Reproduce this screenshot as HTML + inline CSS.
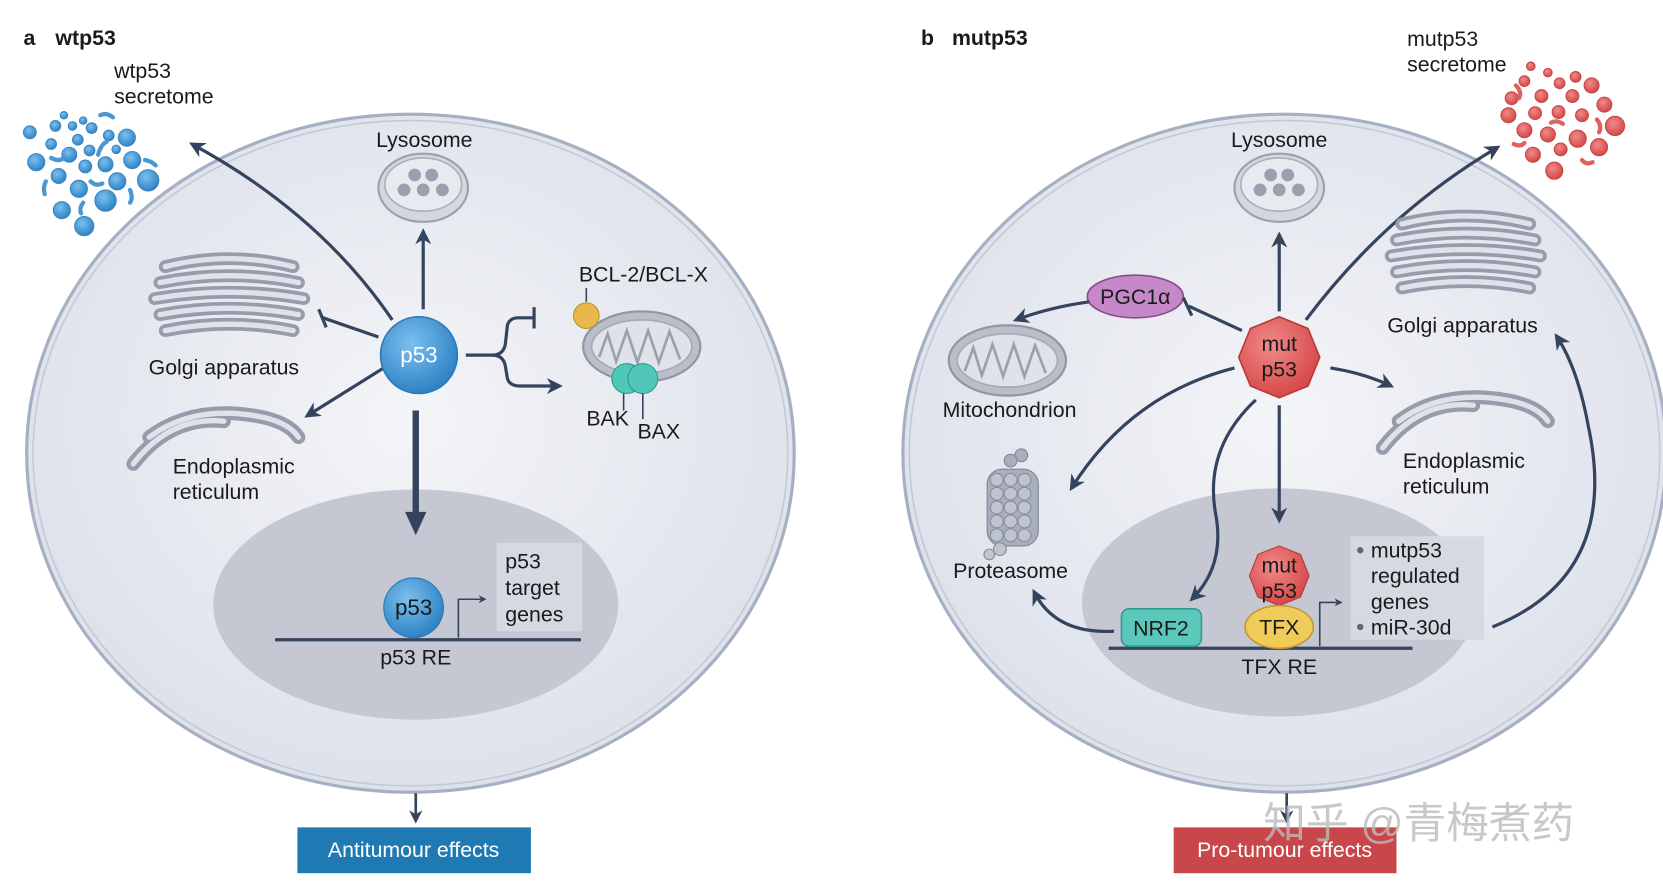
<!DOCTYPE html>
<html><head><meta charset="utf-8"><style>
html,body{margin:0;padding:0;background:#fff;}
svg{display:block;}
text{font-family:"Liberation Sans","Noto Sans CJK SC",sans-serif;fill:#1a1a1a;}
</style></head><body>
<svg width="1663" height="884" viewBox="0 0 1560 829" xmlns="http://www.w3.org/2000/svg">
<defs>
<radialGradient id="cell" cx="50%" cy="45%" r="55%"><stop offset="0" stop-color="#f4f5f8"/><stop offset="1" stop-color="#dde1ea"/></radialGradient>
<radialGradient id="blue" cx="40%" cy="35%" r="65%"><stop offset="0" stop-color="#7cc0ee"/><stop offset="1" stop-color="#2f83c6"/></radialGradient>
<radialGradient id="red" cx="40%" cy="35%" r="65%"><stop offset="0" stop-color="#f08a8a"/><stop offset="1" stop-color="#d64848"/></radialGradient>
<marker id="ah" viewBox="0 0 10 10" refX="8" refY="5" markerWidth="5" markerHeight="5" orient="auto"><path d="M0,0 L10,5 L0,10 L3,5 z" fill="#34435e"/></marker>
<g id="lyso"><ellipse cx="0" cy="0" rx="42" ry="32" fill="#d4d7de" stroke="#9aa1ae" stroke-width="2"/><ellipse cx="0" cy="-3" rx="36" ry="25" fill="#e8eaef" stroke="#a9afba" stroke-width="1.5"/><circle cx="-8" cy="-12" r="6" fill="#9aa1ae"/><circle cx="8" cy="-12" r="6" fill="#9aa1ae"/><circle cx="-18" cy="2" r="6" fill="#9aa1ae"/><circle cx="0" cy="2" r="6" fill="#9aa1ae"/><circle cx="18" cy="2" r="6" fill="#9aa1ae"/></g>
<g id="golgi" fill="none" stroke="#959cab" stroke-width="12" stroke-linecap="round"><path d="M-60,-30 Q0,-45 60,-30"/><path d="M-65,-15 Q0,-28 65,-15"/><path d="M-70,0 Q0,-12 70,0"/><path d="M-65,15 Q0,3 65,15"/><path d="M-60,30 Q0,18 60,30"/></g>
<g id="golgiI" fill="none" stroke="#dfe2e9" stroke-width="5" stroke-linecap="round"><path d="M-60,-30 Q0,-45 60,-30"/><path d="M-65,-15 Q0,-28 65,-15"/><path d="M-70,0 Q0,-12 70,0"/><path d="M-65,15 Q0,3 65,15"/><path d="M-60,30 Q0,18 60,30"/></g>
<g id="er" fill="none" stroke-linecap="round"><path d="M-75,30 Q-40,-15 10,-10" stroke="#959cab" stroke-width="13"/><path d="M-60,5 Q-20,-25 40,-15 Q70,-10 80,5" stroke="#959cab" stroke-width="13"/><path d="M-75,30 Q-40,-15 10,-10" stroke="#dfe2e9" stroke-width="5"/><path d="M-60,5 Q-20,-25 40,-15 Q70,-10 80,5" stroke="#dfe2e9" stroke-width="5"/></g>
<g id="mito"><ellipse cx="0" cy="0" rx="55" ry="33" fill="#b9bec9" stroke="#8e95a3" stroke-width="2"/><ellipse cx="0" cy="0" rx="47" ry="25" fill="#dfe2e8" stroke="#a3a9b5" stroke-width="1.5"/><path d="M-40,10 L-32,-12 L-24,14 L-14,-15 L-4,15 L6,-15 L16,15 L26,-14 L36,12" fill="none" stroke="#9aa1ae" stroke-width="2.5"/></g>
</defs>

<!-- LEFT CELL -->
<ellipse cx="385" cy="425" rx="360" ry="318" fill="url(#cell)" stroke="#a6b0c4" stroke-width="3"/>
<ellipse cx="385" cy="425" rx="354" ry="312" fill="none" stroke="#c2c9d7" stroke-width="1.5"/>
<ellipse cx="390" cy="567" rx="190" ry="108" fill="#c5c8d3"/>

<text x="22" y="42" font-size="20" font-weight="bold">a</text>
<text x="52" y="42" font-size="20" font-weight="bold">wtp53</text>
<text x="107" y="73" font-size="20">wtp53</text>
<text x="107" y="97" font-size="20">secretome</text>
<g fill="url(#blue)" stroke="#3a86c2" stroke-width="1">
<circle cx="28" cy="124" r="6"/><circle cx="52" cy="118" r="5"/><circle cx="68" cy="118" r="4"/><circle cx="60" cy="108" r="3.5"/><circle cx="78" cy="113" r="3.5"/><circle cx="86" cy="120" r="5"/><circle cx="102" cy="127" r="5"/><circle cx="119" cy="129" r="8"/>
<circle cx="48" cy="135" r="5"/><circle cx="73" cy="131" r="5"/><circle cx="84" cy="141" r="5"/><circle cx="109" cy="140" r="4"/>
<circle cx="34" cy="152" r="8"/><circle cx="65" cy="145" r="7"/><circle cx="80" cy="156" r="6"/><circle cx="99" cy="154" r="7"/><circle cx="124" cy="150" r="8"/>
<circle cx="55" cy="165" r="7"/><circle cx="74" cy="177" r="8"/><circle cx="110" cy="170" r="8"/><circle cx="139" cy="169" r="10"/>
<circle cx="99" cy="188" r="10"/><circle cx="58" cy="197" r="8"/><circle cx="79" cy="212" r="9"/></g>
<g fill="none" stroke="#4b97d0" stroke-width="4" stroke-linecap="round"><path d="M94,108 Q100,105 106,110"/><path d="M48,148 Q55,152 60,148"/><path d="M92,145 Q95,135 100,133"/><path d="M136,150 Q142,151 146,155"/><path d="M43,170 Q40,176 42,182"/><path d="M85,170 Q90,175 96,172"/><path d="M122,178 Q125,186 122,190"/><path d="M78,190 Q74,195 76,200"/></g>

<path d="M368,300 Q300,200 180,135" fill="none" stroke="#34435e" stroke-width="3" marker-end="url(#ah)"/>
<text x="398" y="138" font-size="20" text-anchor="middle">Lysosome</text>
<use href="#lyso" x="397" y="176"/>
<line x1="397" y1="290" x2="397" y2="217" stroke="#34435e" stroke-width="3" marker-end="url(#ah)"/>

<use href="#golgi" x="215" y="280"/><use href="#golgiI" x="215" y="280"/>
<text x="210" y="351" font-size="20" text-anchor="middle">Golgi apparatus</text>
<line x1="355" y1="316" x2="303" y2="298" stroke="#34435e" stroke-width="3"/><line x1="299" y1="290" x2="306" y2="307" stroke="#34435e" stroke-width="3"/>
<path d="M360,345 Q320,370 288,390" fill="none" stroke="#34435e" stroke-width="3" marker-end="url(#ah)"/>
<use href="#er" x="200" y="405"/>
<text x="162" y="444" font-size="20">Endoplasmic</text>
<text x="162" y="468" font-size="20">reticulum</text>

<circle cx="393" cy="333" r="36" fill="url(#blue)" stroke="#2a78b8" stroke-width="1.5"/>
<text x="393" y="340" font-size="21" text-anchor="middle" style="fill:#fff">p53</text>

<path d="M437,333 L462,333 Q472,333 474,323 L476,305 Q478,298 486,298 L500,298" fill="none" stroke="#34435e" stroke-width="3"/>
<line x1="501" y1="288" x2="501" y2="308" stroke="#34435e" stroke-width="3"/>
<path d="M462,333 Q472,333 474,343 L476,355 Q478,362 488,362 L525,362" fill="none" stroke="#34435e" stroke-width="3" marker-end="url(#ah)"/>
<use href="#mito" x="602" y="325"/>
<line x1="550" y1="283" x2="550" y2="270" stroke="#34435e" stroke-width="1.5"/>
<circle cx="550" cy="296" r="12" fill="#e8b84a" stroke="#b8902a"/>
<text x="543" y="264" font-size="20">BCL-2/BCL-X</text>
<circle cx="588" cy="355" r="14" fill="#4fc8b8" stroke="#2a9a8a"/><circle cx="603" cy="355" r="14" fill="#4fc8b8" stroke="#2a9a8a"/>
<line x1="585" y1="369" x2="585" y2="385" stroke="#34435e" stroke-width="1.5"/><line x1="603" y1="369" x2="603" y2="393" stroke="#34435e" stroke-width="1.5"/>
<text x="550" y="399" font-size="20">BAK</text><text x="598" y="411" font-size="20">BAX</text>

<line x1="390" y1="385" x2="390" y2="490" stroke="#34435e" stroke-width="6"/>
<path d="M380,480 L390,502 L400,480 z" fill="#34435e"/>
<line x1="258" y1="600" x2="545" y2="600" stroke="#34435e" stroke-width="3"/>
<circle cx="388" cy="570" r="28" fill="url(#blue)" stroke="#2a78b8"/>
<text x="388" y="577" font-size="21" text-anchor="middle">p53</text>
<text x="390" y="623" font-size="20" text-anchor="middle">p53 RE</text>
<path d="M430,598 L430,562 L455,562" fill="none" stroke="#34435e" stroke-width="1.5" marker-end="url(#ah)"/>
<rect x="466" y="509" width="80" height="83" fill="#d6d9e1"/>
<text x="474" y="533" font-size="20">p53</text><text x="474" y="558" font-size="20">target</text><text x="474" y="583" font-size="20">genes</text>

<line x1="390" y1="744" x2="390" y2="770" stroke="#34435e" stroke-width="2.5" marker-end="url(#ah)"/>
<rect x="279" y="776" width="219" height="43" fill="#1f7ab3"/>
<text x="388" y="804" font-size="20" text-anchor="middle" style="fill:#fff">Antitumour effects</text>

<!-- RIGHT CELL -->
<ellipse cx="1205" cy="425" rx="358" ry="318" fill="url(#cell)" stroke="#a6b0c4" stroke-width="3"/>
<ellipse cx="1205" cy="425" rx="352" ry="312" fill="none" stroke="#c2c9d7" stroke-width="1.5"/>
<ellipse cx="1200" cy="565" rx="185" ry="107" fill="#c5c8d3"/>

<text x="864" y="42" font-size="20" font-weight="bold">b</text>
<text x="893" y="42" font-size="20" font-weight="bold">mutp53</text>
<text x="1320" y="43" font-size="20">mutp53</text>
<text x="1320" y="67" font-size="20">secretome</text>
<g fill="url(#red)" stroke="#c84444" stroke-width="1">
<circle cx="1436" cy="62" r="4"/><circle cx="1452" cy="68" r="4"/><circle cx="1430" cy="76" r="5"/><circle cx="1463" cy="78" r="5"/><circle cx="1478" cy="72" r="5"/><circle cx="1493" cy="80" r="7"/>
<circle cx="1418" cy="92" r="6"/><circle cx="1446" cy="90" r="6"/><circle cx="1475" cy="90" r="6"/><circle cx="1505" cy="98" r="7"/>
<circle cx="1415" cy="108" r="7"/><circle cx="1440" cy="106" r="6"/><circle cx="1462" cy="105" r="6"/><circle cx="1484" cy="108" r="6"/>
<circle cx="1430" cy="122" r="7"/><circle cx="1452" cy="126" r="7"/><circle cx="1480" cy="130" r="8"/><circle cx="1515" cy="118" r="9"/>
<circle cx="1438" cy="145" r="7"/><circle cx="1464" cy="140" r="6"/><circle cx="1500" cy="138" r="8"/><circle cx="1458" cy="160" r="8"/></g>
<g fill="none" stroke="#e06060" stroke-width="4" stroke-linecap="round"><path d="M1422,80 Q1428,86 1425,92"/><path d="M1455,115 Q1460,112 1466,116"/><path d="M1498,112 Q1503,118 1500,124"/><path d="M1420,135 Q1426,138 1430,134"/><path d="M1484,150 Q1488,155 1494,152"/></g>

<path d="M1225,300 Q1300,200 1405,138" fill="none" stroke="#34435e" stroke-width="3" marker-end="url(#ah)"/>
<text x="1200" y="138" font-size="20" text-anchor="middle">Lysosome</text>
<use href="#lyso" x="1200" y="176"/>
<line x1="1200" y1="292" x2="1200" y2="220" stroke="#34435e" stroke-width="3" marker-end="url(#ah)"/>

<ellipse cx="1065" cy="278" rx="45" ry="20" fill="#c688c8" stroke="#8a4a8e" stroke-width="1.5"/>
<text x="1065" y="285" font-size="20" text-anchor="middle">PGC1α</text>
<line x1="1165" y1="310" x2="1115" y2="287" stroke="#34435e" stroke-width="3"/><line x1="1110" y1="279" x2="1118" y2="296" stroke="#34435e" stroke-width="3"/>
<path d="M1022,283 Q985,288 953,300" fill="none" stroke="#34435e" stroke-width="3" marker-end="url(#ah)"/>
<use href="#mito" x="945" y="338"/>
<text x="947" y="391" font-size="20" text-anchor="middle">Mitochondrion</text>

<use href="#golgi" x="1375" y="240"/><use href="#golgiI" x="1375" y="240"/>
<text x="1372" y="312" font-size="20" text-anchor="middle">Golgi apparatus</text>
<path d="M1248,345 Q1280,350 1305,362" fill="none" stroke="#34435e" stroke-width="3" marker-end="url(#ah)"/>
<use href="#er" x="1372" y="390"/>
<text x="1316" y="439" font-size="20">Endoplasmic</text>
<text x="1316" y="463" font-size="20">reticulum</text>

<path d="M1158,345 Q1060,370 1005,458" fill="none" stroke="#34435e" stroke-width="3" marker-end="url(#ah)"/>
<g fill="#a8aebb" stroke="#7e8594" stroke-width="1">
<circle cx="958" cy="427" r="6"/><circle cx="948" cy="432" r="6"/>
<rect x="926" y="440" width="48" height="72" rx="14" fill="#a8aebb"/></g>
<g fill="#bfc4cf" stroke="#858c9b" stroke-width="1">
<circle cx="935" cy="450" r="6"/><circle cx="948" cy="450" r="6"/><circle cx="961" cy="450" r="6"/>
<circle cx="935" cy="463" r="6"/><circle cx="948" cy="463" r="6"/><circle cx="961" cy="463" r="6"/>
<circle cx="935" cy="476" r="6"/><circle cx="948" cy="476" r="6"/><circle cx="961" cy="476" r="6"/>
<circle cx="935" cy="489" r="6"/><circle cx="948" cy="489" r="6"/><circle cx="961" cy="489" r="6"/>
<circle cx="935" cy="502" r="6"/><circle cx="948" cy="502" r="6"/><circle cx="961" cy="502" r="6"/>
<circle cx="938" cy="515" r="6"/><circle cx="928" cy="520" r="5"/></g>
<text x="948" y="542" font-size="20" text-anchor="middle">Proteasome</text>

<path d="M1178,375 Q1130,420 1140,480 Q1150,530 1118,562" fill="none" stroke="#34435e" stroke-width="3" marker-end="url(#ah)"/>
<line x1="1200" y1="380" x2="1200" y2="488" stroke="#34435e" stroke-width="3" marker-end="url(#ah)"/>

<polygon points="1200,297 1227,308 1238,335 1227,362 1200,373 1173,362 1162,335 1173,308" fill="url(#red)" stroke="#b83a3a" stroke-width="1.5"/>
<text x="1200" y="329" font-size="20" text-anchor="middle">mut</text><text x="1200" y="353" font-size="20" text-anchor="middle">p53</text>

<line x1="1040" y1="608" x2="1325" y2="608" stroke="#34435e" stroke-width="3"/>
<polygon points="1200,512 1220,520 1228,540 1220,560 1200,568 1180,560 1172,540 1180,520" fill="url(#red)" stroke="#b83a3a" stroke-width="1"/>
<text x="1200" y="537" font-size="20" text-anchor="middle">mut</text><text x="1200" y="561" font-size="20" text-anchor="middle">p53</text>
<ellipse cx="1200" cy="588" rx="32" ry="20" fill="#efcb5a" stroke="#c09a2a" stroke-width="1.5"/>
<text x="1200" y="595" font-size="20" text-anchor="middle">TFX</text>
<rect x="1052" y="571" width="75" height="35" rx="7" fill="#5cc8bc" stroke="#2f9a8e" stroke-width="1.5"/>
<text x="1089" y="596" font-size="20" text-anchor="middle">NRF2</text>
<text x="1200" y="632" font-size="20" text-anchor="middle">TFX RE</text>
<path d="M1238,606 L1238,565 L1258,565" fill="none" stroke="#34435e" stroke-width="1.5" marker-end="url(#ah)"/>
<rect x="1267" y="503" width="125" height="97" fill="#d6d9e1"/>
<circle cx="1276" cy="516" r="3" fill="#666"/><circle cx="1276" cy="588" r="3" fill="#666"/>
<text x="1286" y="523" font-size="20">mutp53</text><text x="1286" y="547" font-size="20">regulated</text><text x="1286" y="571" font-size="20">genes</text><text x="1286" y="595" font-size="20">miR-30d</text>
<path d="M1045,592 Q990,595 970,555" fill="none" stroke="#34435e" stroke-width="3" marker-end="url(#ah)"/>
<path d="M1400,588 Q1520,540 1490,400 Q1480,345 1460,315" fill="none" stroke="#34435e" stroke-width="3" marker-end="url(#ah)"/>

<line x1="1207" y1="744" x2="1207" y2="770" stroke="#34435e" stroke-width="2.5" marker-end="url(#ah)"/>
<rect x="1101" y="776" width="209" height="43" fill="#c9474a"/>
<text x="1205" y="804" font-size="20" text-anchor="middle" style="fill:#fff">Pro-tumour effects</text>
<text x="1185" y="786" font-size="40" style="fill:#bbbbbb;opacity:0.8">知乎 @青梅煮药</text>
</svg>
</body></html>
